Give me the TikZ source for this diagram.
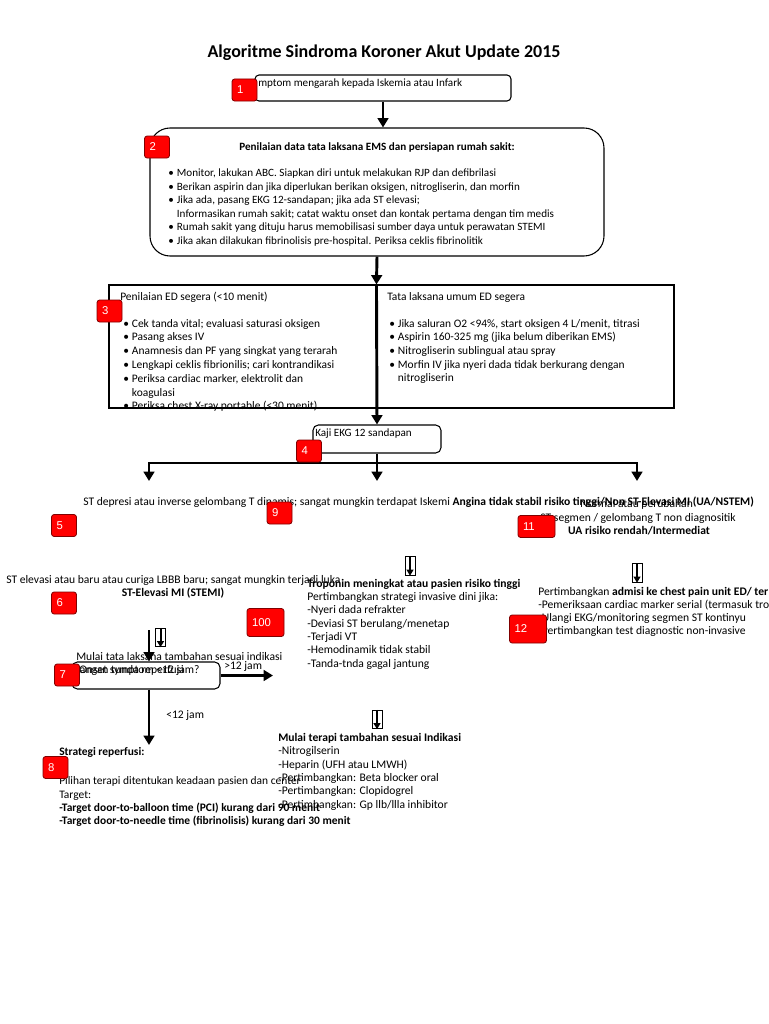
\documentclass[tikz,border=0pt]{standalone}
\usepackage{fontspec}
\setmainfont{Carlito}
\newfontfamily\numfont{Liberation Sans}
\usepackage{xcolor}
\usepackage{tikz}
\usetikzlibrary{positioning,shapes,arrows.meta,calc,fit}
\tikzstyle{every node}=[font=\fontsize{8.7}{10}\selectfont]
\tikzstyle{txt}=[inner sep=0pt, anchor=base west]
\tikzstyle{panel}=[draw=black, line width=0.8pt, inner sep=0pt]
\tikzstyle{badge}=[rectangle, rounded corners=2pt, fill=red, draw=red!50!black,
  line width=0.6pt, text=white, font=\numfont\fontsize{8.5}{10}\selectfont,
  minimum height=16.5pt, text width=11.25pt, inner xsep=3.75pt, inner ysep=0pt,
  align=left]
\tikzstyle{bigbadge}=[badge, minimum height=21pt, text width=20.25pt]
\tikzstyle{line}=[draw, line width=2.2pt, -{Triangle[width=8pt,length=7pt]}]
\newcommand{\bul}{\makebox[6.5pt][l]{\textbullet}}
\newcommand{\edbul}{\makebox[6.5pt][l]{\textbullet}}
\newcommand{\lines}[1]{\begin{tabular}[t]{@{}l@{}}#1\end{tabular}}
\newcommand{\downicon}[2]{
\node (#1) [draw, line width=0.6pt, minimum width=7.5pt, minimum height=14pt,
  inner sep=0pt] at (#2) {};
\draw[line width=1.5pt, -{Triangle[width=5pt,length=4.5pt]}] (#1.north) -- (#1.south);
}

\begin{document}
\begin{tikzpicture}[x=0.75pt, y=-0.75pt]
  \useasboundingbox (0,0) rectangle (768,1024);
  \node (title) [font=\bfseries\fontsize{13.5}{16}\selectfont] at (384,53)
        {Algoritme Sindroma Koroner Akut Update 2015};

  % symptom
  \node (symptom) [panel, rounded corners=3pt, fit={(255,75) (511,101)}] {};
  \node (symptomtxt) [txt, font=\fontsize{8.35}{10}\selectfont] at (258,87)
        {mptom mengarah kepada Iskemia atau Infark};

  % EMS
  \node (ems) [panel, rounded corners=15pt, fit={(150,128) (604,256)}] {};
  \node (emstitle) [txt, anchor=base, font=\bfseries\fontsize{8.35}{10.2}\selectfont]
        at (377,150) {Penilaian data tata laksana EMS dan persiapan rumah sakit:};
  \node (emslist) [txt, font=\fontsize{8.35}{10.2}\selectfont] at (168,176.5)
        {\lines{\bul Monitor, lakukan ABC. Siapkan diri untuk melakukan RJP dan defibrilasi\\
         \bul Berikan aspirin dan jika diperlukan berikan oksigen, nitrogliserin, dan morfin\\
         \bul Jika ada, pasang EKG 12-sandapan; jika ada ST elevasi;\\
         \hspace*{6.5pt}Informasikan rumah sakit; catat waktu onset dan kontak pertama dengan tim medis\\
         \bul Rumah sakit yang dituju harus memobilisasi sumber daya untuk perawatan STEMI\\
         \bul Jika akan dilakukan fibrinolisis pre-hospital. Periksa ceklis fibrinolitik}};

  % ED
  \node (edL) [panel, fit={(109,285) (377,408)}] {};
  \node (edR) [panel, fit={(377,285) (674,408)}] {};
  \node (edLtitle) [txt, font=\fontsize{8.6}{10.35}\selectfont] at (120,300)
        {Penilaian ED segera (<10 menit)};
  \node (edLlist) [txt, font=\fontsize{8.6}{10.35}\selectfont] at (123,327)
        {\lines{\edbul Cek tanda vital; evaluasi saturasi oksigen\\
         \edbul Pasang akses IV\\
         \edbul Anamnesis dan PF yang singkat yang terarah\\
         \edbul Lengkapi ceklis fibrionilis; cari kontrandikasi\\
         \edbul Periksa cardiac marker, elektrolit dan\\
         \hspace*{6.5pt}koagulasi\\
         \edbul Periksa chest X-ray portable (<30 menit)}};
  \node (edRtitle) [txt, font=\fontsize{8.6}{10.3}\selectfont] at (387,300.5)
        {Tata laksana umum ED segera};
  \node (edRlist) [txt, font=\fontsize{8.6}{10.3}\selectfont] at (389,327)
        {\lines{\edbul Jika saluran O2 <94\%, start oksigen 4 L/menit, titrasi\\
         \edbul Aspirin 160-325 mg (jika belum diberikan EMS)\\
         \edbul Nitrogliserin sublingual atau spray\\
         \edbul Morfin IV jika nyeri dada tidak berkurang dengan\\
         \hspace*{6.5pt}nitrogliserin}};

  % EKG
  \node (ekg) [panel, rounded corners=4pt, fit={(313,425) (441,453)}] {};
  \node (ekgtxt) [txt, font=\fontsize{8.35}{10}\selectfont] at (315,436) {Kaji EKG 12 sandapan};

  \draw[line] (symptom.south) -- (symptom.south |- ems.north);
  \draw[line] (ems.south) -- (edR.north west);
  \draw[line] (edR.north west) -- (ekg.north);

  \coordinate (forkL) at (149,463);
  \coordinate (forkR) at (637,463);
  \coordinate (stL) at (149,481);
  \coordinate (stM) at (377,481);
  \coordinate (stR) at (637,481);
  \draw[line, {Triangle[width=8pt,length=7pt]}-{Triangle[width=8pt,length=7pt]}]
        (stL) -- (forkL) -- (forkR) -- (stR);
  \draw[line] (ekg.south) -- (stM);

  % cabang
  \node (stdep) [txt] at (83,505)
        {ST depresi atau inverse gelombang T dinamis; sangat mungkin terdapat Iskemi
         \textbf{Angina tidak stabil risiko tinggi/Non ST-Elevasi MI (UA/NSTEM)}};
  \node (normal) [txt] at (580,507) {Normal atau perubahan};
  \node (stseg) [txt, anchor=base east] at (736,521.5) {ST segmen / gelombang T non diagnositik};
  \node (uarendah) [txt, anchor=base, font=\bfseries\fontsize{8.7}{10}\selectfont]
        at (639,534) {UA risiko rendah/Intermediat};

  \node (stelev) [txt] at (6,583) {ST elevasi atau baru atau curiga LBBB baru; sangat mungkin terjadi luka};
  \node (stemi) [txt, anchor=base, font=\bfseries\fontsize{8.7}{10}\selectfont]
        at (173,596) {ST-Elevasi MI (STEMI)};

  \node (troponin) [txt] at (307,587)
        {\lines{\textbf{Troponin meningkat atau pasien risiko tinggi}\\
         Pertimbangkan strategi invasive dini jika:\\
         -Nyeri dada refrakter\\
         -Deviasi ST berulang/menetap\\
         -Terjadi VT\\
         -Hemodinamik tidak stabil\\
         -Tanda-tnda gagal jantung}};

  \node (admisi) [txt, font=\fontsize{8.7}{9.8}\selectfont] at (538,595)
        {\lines{Pertimbangkan \textbf{admisi ke chest pain unit ED/ ter}\\
         -Pemeriksaan cardiac marker serial (termasuk tro\\
         -Ulangi EKG/monitoring segmen ST kontinyu\\
         -Pertimbangkan test diagnostic non-invasive}};

  \node (mulai) [txt, font=\fontsize{8.7}{9.8}\selectfont] at (76,660)
        {\lines{Mulai tata laksana tambahan sesuai indikasi\\Jangan tunda reperfusi}};

  % onset
  \node (onset) [panel, rounded corners=4pt, fit={(72,662) (220,689)}] {};
  \node (onsettxt) [txt] at (79,673) {Onset symptom <12 jam?};
  \coordinate (stemiIn) at (149,630);
  \coordinate (late) at (273,675.5);
  \coordinate (early) at (149,745);
  \draw[line] (stemiIn) -- (stemiIn |- onset.north);
  \draw[line] (onset.east) -- (late);
  \draw[line] (onset.south -| early) -- (early);
  \node (gt12) [txt] at (224,669.5) {>12 jam};
  \node (lt12) [txt] at (166,718) {<12 jam};

  \node (strategi) [txt, font=\fontsize{8.6}{10}\selectfont] at (59,755.5)
        {\lines{\textbf{Strategi reperfusi:}\\[12pt]
         Pilihan terapi ditentukan keadaan pasien dan center\\
         Target:\\
         \textbf{-Target door-to-balloon time (PCI) kurang dari 90 menit}\\
         \textbf{-Target door-to-needle time (fibrinolisis) kurang dari 30 menit}}};

  \node (terapi) [txt] at (278,741.5)
        {\lines{\textbf{Mulai terapi tambahan sesuai Indikasi}\\
         -Nitrogilserin\\
         -Heparin (UFH atau LMWH)\\
         -Pertimbangkan: Beta blocker oral\\
         -Pertimbangkan: Clopidogrel\\
         -Pertimbangkan: Gp llb/llla inhibitor}};

  % ikon panah
  \downicon{iconA}{160.5,637.5}
  \downicon{iconB}{410,566}
  \downicon{iconC}{637,573}
  \downicon{iconD}{377,719.5}

  % nomor
  \node (n1) [badge] at (244.5,90) {1};
  \node (n2) [badge] at (157,147) {2};
  \node (n3) [badge] at (109.5,311) {3};
  \node (n4) [badge] at (309,451) {4};
  \node (n5) [badge] at (64,525.5) {5};
  \node (n9) [badge] at (279.5,513) {9};
  \node (n11) [bigbadge, minimum height=16.5pt] at (536.5,526.5) {11};
  \node (n6) [badge] at (64,603) {6};
  \node (n100) [bigbadge] at (265.5,622.5) {100};
  \node (n12) [bigbadge] at (528,629) {12};
  \node (n7) [badge] at (67,675) {7};
  \node (n8) [badge] at (55.5,767.5) {8};
\end{tikzpicture}
\end{document}
